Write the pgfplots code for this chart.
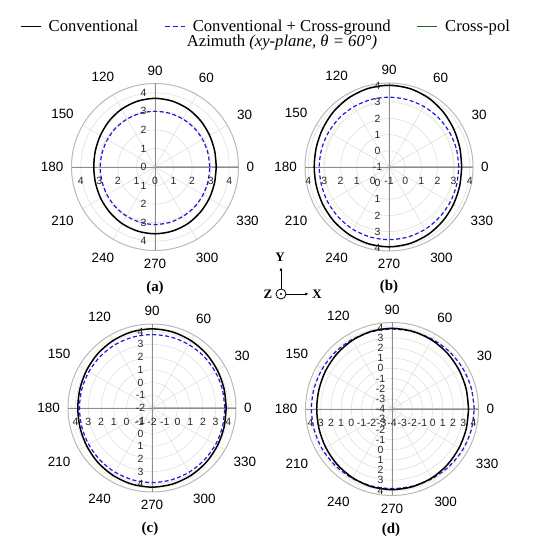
\documentclass[border=0pt]{standalone}
\usepackage{pgfplots}
\pgfplotsset{compat=1.18}
\usepgfplotslibrary{polar}
\usetikzlibrary{arrows.meta}
\usepackage{fontspec}
\setmainfont{Liberation Serif}
\setsansfont{Liberation Sans}

\definecolor{gridc}{RGB}{224,224,224}
\definecolor{ringc}{RGB}{185,185,185}
\definecolor{crossc}{RGB}{140,140,140}
\definecolor{cgblue}{RGB}{25,25,225}
\definecolor{xpgreen}{RGB}{35,100,35}
\definecolor{faintyel}{RGB}{232,226,150}

\tikzset{rlab/.style={font=\fontsize{10.5}{11}\selectfont\sffamily, inner sep=0pt, text=black!85}}
\pgfplotsset{
  pat/.style={
    scale only axis,
    width=#1, height=#1,
    xtick={0,30,...,330},
    xticklabels={0,30,60,90,120,150,180,210,240,270,300,330},
    xticklabel style={font=\fontsize{13.5}{14}\selectfont\sffamily, inner sep=8bp},
    ytick={1,...,8},
    yticklabels={},
    ymin=0,
    grid=major,
    major grid style={gridc, line width=0.6bp},
    axis line style={ringc, line width=1bp},
    tick style={draw=none},
    clip=false,
  },
  conv/.style={black, line width=1.5bp, smooth},
  cg/.style={cgblue, line width=1.2bp, dash pattern=on 4bp off 2.5bp, smooth},
  xp/.style={faintyel, line width=0.6bp, densely dotted, smooth},
}

% grey cross through the centre, out to the outer ring
\newcommand\cross[1]{%
  \draw[crossc, line width=0.6bp] (axis cs:0,#1) -- (axis cs:180,#1);
  \draw[crossc, line width=0.6bp] (axis cs:90,#1) -- (axis cs:270,#1);}
% radial tick labels on all four arms; #1 = number of rings, #2 = value at the centre
\newcommand\radlabels[2]{%
  \node[rlab, yshift=-14bp] at (axis cs:0,0) {#2};
  \node[rlab, xshift=-11.5bp] at (axis cs:0,0) {#2};
  \pgfplotsinvokeforeach{1,...,#1}{
    \node[rlab, yshift=-14bp] at (axis cs:0,##1) {\pgfmathtruncatemacro\rl{##1+(#2)}\rl};
    \node[rlab, yshift=-14bp] at (axis cs:180,##1) {\pgfmathtruncatemacro\rl{##1+(#2)}\rl};
    \node[rlab, xshift=-11.5bp] at (axis cs:90,##1) {\pgfmathtruncatemacro\rl{##1+(#2)}\rl};
    \node[rlab, xshift=-11.5bp] at (axis cs:270,##1) {\pgfmathtruncatemacro\rl{##1+(#2)}\rl};
  }}

\begin{document}
\begin{tikzpicture}[x=1bp, y=1bp]

% (a)
\begin{polaraxis}[pat=167bp, at={(155bp,383bp)}, anchor=center, ymax=4.5,
  legend columns=3,
  legend style={at={(1.159,1.342)}, anchor=center, draw=none, fill=none,
    font=\fontsize{16.7}{19}\selectfont, nodes={inner sep=0pt},
    /tikz/every odd column/.append style={column sep=7bp},
    /tikz/every even column/.append style={column sep=26bp}},
  legend image code/.code={\draw[#1] (0bp,0bp) -- (20bp,0bp);},
]
\addlegendimage{black, line width=1.5bp}
\addlegendentry{Conventional}
\addlegendimage{cgblue, line width=1.5bp, dash pattern=on 5bp off 3bp}
\addlegendentry{Conventional + Cross-ground}
\addlegendimage{xpgreen, line width=1.5bp}
\addlegendentry{Cross-pol}
\cross{4.5}
\addplot[xp] coordinates {(0,3.05) (30,3.06) (60,3.08) (90,3.1) (120,3.08) (150,3.06) (180,3.05) (210,3.08) (240,3.12) (270,3.15) (300,3.12) (330,3.08) (360,3.05)};
\addplot[cg] coordinates {(0,2.95) (15,2.95) (30,2.96) (45,2.98) (60,2.99) (75,3.00) (90,3.00) (105,3.00) (120,2.99) (135,2.98) (150,2.96) (165,2.95) (180,2.95) (195,2.96) (210,2.99) (225,3.03) (240,3.06) (255,3.09) (270,3.10) (285,3.09) (300,3.06) (315,3.03) (330,2.99) (345,2.96) (360,2.95)};
\addplot[conv] coordinates {(0,3.30) (15,3.33) (30,3.40) (45,3.50) (60,3.60) (75,3.67) (90,3.70) (105,3.67) (120,3.60) (135,3.50) (150,3.40) (165,3.33) (180,3.30) (195,3.32) (210,3.38) (225,3.45) (240,3.53) (255,3.58) (270,3.60) (285,3.58) (300,3.53) (315,3.45) (330,3.38) (345,3.32) (360,3.30)};
\radlabels{4}{0}
\end{polaraxis}

% (b)
\begin{polaraxis}[pat=168bp, at={(389bp,383bp)}, anchor=center, ymax=5.2,
  y filter/.expression={y+1}]
\cross{5.2}
\addplot[xp] coordinates {(0,3.1) (30,3.1) (60,3.12) (90,3.14) (120,3.12) (150,3.1) (180,3.1) (210,3.14) (240,3.2) (270,3.22) (300,3.2) (330,3.14) (360,3.1)};
\addplot[cg] coordinates {(0,3.32) (15,3.32) (30,3.32) (45,3.32) (60,3.32) (75,3.32) (90,3.32) (105,3.32) (120,3.32) (135,3.32) (150,3.32) (165,3.32) (180,3.32) (195,3.33) (210,3.37) (225,3.41) (240,3.46) (255,3.49) (270,3.50) (285,3.49) (300,3.46) (315,3.41) (330,3.37) (345,3.33) (360,3.32)};
\addplot[conv] coordinates {(0,3.50) (15,3.54) (30,3.64) (45,3.78) (60,3.92) (75,4.02) (90,4.06) (105,4.03) (120,3.95) (135,3.85) (150,3.74) (165,3.66) (180,3.63) (195,3.65) (210,3.71) (225,3.79) (240,3.86) (255,3.92) (270,3.94) (285,3.91) (300,3.83) (315,3.72) (330,3.61) (345,3.53) (360,3.50)};
\radlabels{5}{-1}
\end{polaraxis}

% (c)
\begin{polaraxis}[pat=168bp, at={(152bp,142bp)}, anchor=center, ymax=6.6,
  y filter/.expression={y+2}]
\cross{6.6}
\addplot[xp] coordinates {(0,4.3) (30,4.3) (60,4.32) (90,4.34) (120,4.32) (150,4.3) (180,4.3) (210,4.3) (240,4.32) (270,4.34) (300,4.32) (330,4.3) (360,4.3)};
\addplot[cg] coordinates {(0,3.72) (15,3.72) (30,3.73) (45,3.75) (60,3.76) (75,3.77) (90,3.77) (105,3.77) (120,3.76) (135,3.74) (150,3.72) (165,3.71) (180,3.70) (195,3.71) (210,3.74) (225,3.78) (240,3.82) (255,3.85) (270,3.86) (285,3.85) (300,3.83) (315,3.79) (330,3.76) (345,3.73) (360,3.72)};
\addplot[conv] coordinates {(0,3.83) (15,3.86) (30,3.93) (45,4.03) (60,4.12) (75,4.19) (90,4.22) (105,4.19) (120,4.12) (135,4.03) (150,3.93) (165,3.86) (180,3.83) (195,3.86) (210,3.93) (225,4.03) (240,4.12) (255,4.19) (270,4.22) (285,4.19) (300,4.12) (315,4.03) (330,3.93) (345,3.86) (360,3.83)};
\radlabels{6}{-2}
\end{polaraxis}

% (d)
\begin{polaraxis}[pat=173bp, at={(392bp,141bp)}, anchor=center, ymax=8.5,
  y filter/.expression={y+4}]
\cross{8.5}
\addplot[xp] coordinates {(0,4.2) (30,4.2) (60,4.18) (90,4.15) (120,4.18) (150,4.2) (180,4.2) (210,4.18) (240,4.15) (270,4.14) (300,4.15) (330,4.18) (360,4.2)};
\addplot[cg] coordinates {(0,4.08) (15,4.06) (30,4.02) (45,3.97) (60,3.91) (75,3.87) (90,3.85) (105,3.85) (120,3.87) (135,3.89) (150,3.90) (165,3.92) (180,3.92) (195,3.91) (210,3.90) (225,3.87) (240,3.85) (255,3.83) (270,3.82) (285,3.84) (300,3.89) (315,3.95) (330,4.02) (345,4.06) (360,4.08)};
\addplot[conv] coordinates {(0,3.52) (15,3.55) (30,3.62) (45,3.72) (60,3.82) (75,3.89) (90,3.92) (105,3.89) (120,3.79) (135,3.66) (150,3.53) (165,3.43) (180,3.40) (195,3.43) (210,3.53) (225,3.66) (240,3.79) (255,3.89) (270,3.92) (285,3.89) (300,3.82) (315,3.72) (330,3.62) (345,3.55) (360,3.52)};
\radlabels{8}{-4}
\end{polaraxis}

% title, panel letters, coordinate sketch
\node[font=\fontsize{16.7}{19}\selectfont] at (282,507.5) {Azimuth \textit{(xy-plane, θ = 60°)}};
\node[font=\fontsize{15}{18}\selectfont\bfseries] at (155,262) {(a)};
\node[font=\fontsize{15}{18}\selectfont\bfseries] at (389,263) {(b)};
\node[font=\fontsize{15}{18}\selectfont\bfseries] at (150,21) {(c)};
\node[font=\fontsize{15}{18}\selectfont\bfseries] at (391,20) {(d)};
\begin{scope}[line width=0.8bp, font=\fontsize{13}{15}\selectfont\bfseries]
  \draw (281,256) circle (5);
  \fill (281,256) circle (1.1);
  \draw[-{Latex[length=4bp,width=3bp]}] (281,261) -- (281,283);
  \draw[-{Latex[length=4bp,width=3bp]}] (286,256) -- (309,256);
  \node at (280,293) {Y};
  \node at (268,256) {Z};
  \node at (317,256) {X};
\end{scope}

\pgfresetboundingbox
\path[use as bounding box] (0,0) rectangle (548,550);
\end{tikzpicture}
\end{document}
